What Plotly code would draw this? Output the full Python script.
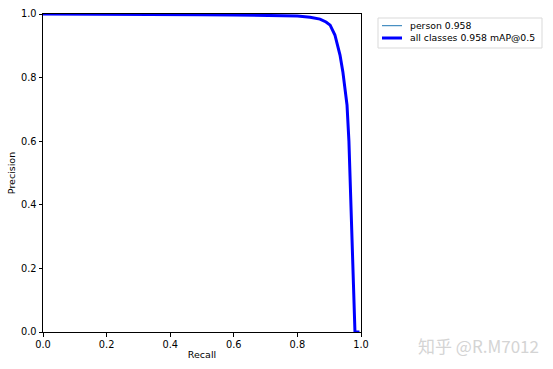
import plotly.graph_objects as go

recall = [0.0, 0.1, 0.2, 0.3, 0.4, 0.5, 0.6, 0.7, 0.75, 0.8, 0.84, 0.871, 0.89, 0.903,
          0.918, 0.934, 0.943, 0.956, 0.962, 0.968, 0.974, 0.978, 0.981, 0.995]
precision = [1.0, 1.0, 0.999, 0.999, 0.999, 0.998, 0.997, 0.996, 0.995, 0.994, 0.99, 0.984,
             0.975, 0.965, 0.934, 0.871, 0.818, 0.714, 0.6, 0.42, 0.2, 0.08, 0.0, 0.0]

class_name = "person"
class_ap = 0.958
map50 = 0.958

ticks = [0.0, 0.2, 0.4, 0.6, 0.8, 1.0]
tick_text = ["0.0", "0.2", "0.4", "0.6", "0.8", "1.0"]

FS_TICK = 9.8
FS_TITLE = 9.5
FS_LEG = 9.3
L, R, T, B = 43, 361, 14, 332
W, H = 553, 369


def px(xp):
    return (xp - L) / (R - L)


def py(yp):
    return (B - yp) / (B - T)


series = [
    dict(name=f"{class_name} {class_ap:.3f}", color="#1f77b4", width=1),
    dict(name=f"all classes {map50:.3f} mAP@0.5", color="blue", width=3),
]

fig = go.Figure()
for s in series:
    fig.add_trace(go.Scatter(x=recall, y=precision, mode="lines",
                             line=dict(color=s["color"], width=s["width"]),
                             name=s["name"], showlegend=False))

axis_common = dict(range=[0, 1], showgrid=False, zeroline=False, showline=True, mirror=True,
                   linecolor="black", linewidth=1, ticks="outside", ticklen=3.5, tickwidth=0.8,
                   tickcolor="black", tickvals=ticks, ticktext=tick_text, automargin=False,
                   tickfont=dict(family="DejaVu Sans", size=FS_TICK, color="black"))

fig.update_layout(
    width=W, height=H,
    margin=dict(l=L, r=W - R, t=T, b=H - B),
    paper_bgcolor="white", plot_bgcolor="white",
    font=dict(family="DejaVu Sans", size=FS_TICK, color="black"),
    xaxis=dict(**axis_common, title=dict(text="Recall", font=dict(size=FS_TITLE), standoff=2)),
    yaxis=dict(**axis_common, title=dict(text="Precision", font=dict(size=FS_TITLE), standoff=3)),
    showlegend=False,
)

# legend drawn as a box with line samples and labels
fig.add_shape(type="rect", xref="paper", yref="paper",
              x0=px(378), x1=px(542), y0=py(48), y1=py(18),
              line=dict(color="#d9d9d9", width=1), fillcolor="white", layer="above")
rows = [25.7, 38.0]
for s, yr in zip(series, rows):
    fig.add_shape(type="line", xref="paper", yref="paper",
                  x0=px(382), x1=px(402), y0=py(yr), y1=py(yr),
                  line=dict(color=s["color"], width=s["width"]))
    fig.add_annotation(text=s["name"], xref="paper", yref="paper",
                       x=px(408), y=py(yr), xanchor="left", yanchor="middle",
                       showarrow=False, font=dict(size=FS_LEG, color="black"))

fig.add_annotation(text="知乎 @R.M7012", xref="paper", yref="paper",
                   x=px(478), y=py(345.5), xanchor="center", yanchor="middle",
                   showarrow=False,
                   font=dict(family="Noto Sans CJK SC", size=17, color="#d4d4d4"))

fig.write_html("out.html")
